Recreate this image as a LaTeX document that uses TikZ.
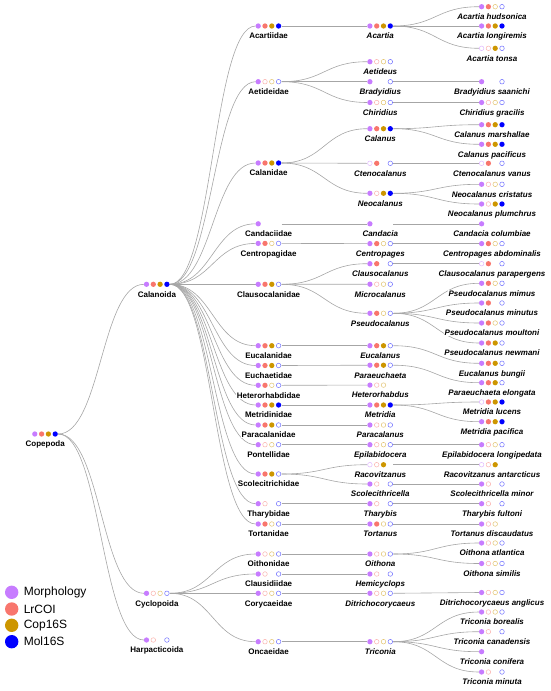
\documentclass[tikz,border=0pt]{standalone}
\usepackage{fontspec}
\setmainfont{Liberation Sans}
\setsansfont{Liberation Sans}
\usetikzlibrary{calc,positioning,backgrounds}

\definecolor{morph}{HTML}{C77CFF}
\definecolor{lrcoi}{HTML}{F8766D}
\definecolor{cop}{HTML}{CD9600}
\definecolor{mol}{HTML}{0000FF}

\tikzset{
  strip/.style={inner sep=0pt,minimum width=25.6pt,minimum height=5.2pt},
  lab/.style={font=\fontsize{8}{9}\selectfont\bfseries,inner sep=0.4pt,fill=white,anchor=base},
  labit/.style={lab,font=\fontsize{8}{9}\selectfont\bfseries\itshape},
  edge/.style={gray!70,line width=0.6pt},
  link/.style={to path={let \p1=(\tikztostart),\p2=(\tikztotarget) in
    .. controls ({(\x1+\x2)/2},\y1) and ({(\x1+\x2)/2},\y2) .. (\tikztotarget)}},
  legdot/.style={circle,inner sep=0pt,minimum size=13.4pt},
  legtxt/.style={font=\fontsize{12}{14}\selectfont,inner sep=0pt}
}

% one marker slot: F = filled, H = hollow, N = none
\newcommand{\marker}[4]{%
  \if F#4\fill[#3] ([xshift={2.6pt+6.8pt*#2}]#1.west) circle[radius=2.65pt];\fi
  \if H#4\draw[#3!55,line width=0.5pt,fill=white] ([xshift={2.6pt+6.8pt*#2}]#1.west) circle[radius=2.3pt];\fi}

% name, x, y, label style, label, four marker codes
\newcommand{\taxon}[9]{%
  \node[strip] (#1) at (#2,#3) {};
  \node[#4] (#1-t) at ([yshift=-12.8pt]#1.center) {#5};
  \marker{#1}{0}{morph}{#6}\marker{#1}{1}{lrcoi}{#7}%
  \marker{#1}{2}{cop}{#8}\marker{#1}{3}{mol}{#9}}

\begin{document}
\begin{tikzpicture}[x=1pt,y=-1pt]
  \useasboundingbox (0,0) rectangle (550,691);

  % root and orders
  \taxon{copepoda}{45.2}{434}{lab}{Copepoda}FFFF
  \taxon{calanoida}{156.9}{284.3}{lab}{Calanoida}FFFF
  \taxon{cyclopoida}{156.9}{593.3}{lab}{Cyclopoida}FHHH
  \taxon{harpacticoida}{156.9}{640}{lab}{Harpacticoida}FHNH

  % families
  \taxon{acartiidae}{268.6}{26}{lab}{Acartiidae}FFFF
  \taxon{aetideidae}{268.6}{81.7}{lab}{Aetideidae}FHHH
  \taxon{calanidae}{268.6}{163}{lab}{Calanidae}FFFF
  \taxon{candaciidae}{268.6}{223.8}{lab}{Candaciidae}FNNN
  \taxon{centropagidae}{268.6}{243.4}{lab}{Centropagidae}FFHH
  \taxon{clausocalanidae}{268.6}{284.3}{lab}{Clausocalanidae}FFFH
  \taxon{eucalanidae}{268.6}{345.7}{lab}{Eucalanidae}FFFH
  \taxon{euchaetidae}{268.6}{365.5}{lab}{Euchaetidae}FFFH
  \taxon{heterorhabdidae}{268.6}{385.3}{lab}{Heterorhabdidae}FFHH
  \taxon{metridinidae}{268.6}{405}{lab}{Metridinidae}FFFF
  \taxon{paracalanidae}{268.6}{425}{lab}{Paracalanidae}FFFH
  \taxon{pontellidae}{268.6}{444.7}{lab}{Pontellidae}FHHH
  \taxon{scolecitrichidae}{268.6}{474}{lab}{Scolecitrichidae}FFFH
  \taxon{tharybidae}{268.6}{503.7}{lab}{Tharybidae}FHNH
  \taxon{tortanidae}{268.6}{524}{lab}{Tortanidae}FFHH
  \taxon{oithonidae}{268.6}{554}{lab}{Oithonidae}FHHH
  \taxon{clausidiidae}{268.6}{574}{lab}{Clausidiidae}FHNH
  \taxon{corycaeidae}{268.6}{593.3}{lab}{Corycaeidae}FHHH
  \taxon{oncaeidae}{268.6}{641.7}{lab}{Oncaeidae}FHHH

  % genera
  \taxon{acartia}{380.3}{26}{labit}{Acartia}FFFF
  \taxon{aetideus}{380.3}{61.7}{labit}{Aetideus}FHHH
  \taxon{bradyidius}{380.3}{81.7}{labit}{Bradyidius}FNNH
  \taxon{chiridius}{380.3}{102.5}{labit}{Chiridius}FHHH
  \taxon{calanus}{380.3}{128.7}{labit}{Calanus}FFFF
  \taxon{ctenocalanus}{380.3}{163.3}{labit}{Ctenocalanus}HFNH
  \taxon{neocalanus}{380.3}{193.3}{labit}{Neocalanus}FHFF
  \taxon{candacia}{380.3}{223.8}{labit}{Candacia}FNNN
  \taxon{centropages}{380.3}{243.6}{labit}{Centropages}FFHH
  \taxon{clausocalanus}{380.3}{263.7}{labit}{Clausocalanus}FFNH
  \taxon{microcalanus}{380.3}{284.2}{labit}{Microcalanus}FHHH
  \taxon{pseudocalanus}{380.3}{313.3}{labit}{Pseudocalanus}FFHH
  \taxon{eucalanus}{380.3}{345.7}{labit}{Eucalanus}FFFH
  \taxon{paraeuchaeta}{380.3}{365.2}{labit}{Paraeuchaeta}FFFH
  \taxon{heterorhabdus}{380.3}{385.1}{labit}{Heterorhabdus}FHHN
  \taxon{metridia}{380.3}{405}{labit}{Metridia}FFFF
  \taxon{paracalanus}{380.3}{425}{labit}{Paracalanus}FHHH
  \taxon{epilabidocera}{380.3}{444.7}{labit}{Epilabidocera}FHHH
  \taxon{racovitzanus}{380.3}{464.7}{labit}{Racovitzanus}HHFN
  \taxon{scolecithricella}{380.3}{484}{labit}{Scolecithricella}FHNH
  \taxon{tharybis}{380.3}{503.7}{labit}{Tharybis}FHNH
  \taxon{tortanus}{380.3}{524}{labit}{Tortanus}FFHH
  \taxon{oithona}{380.3}{554}{labit}{Oithona}FHHH
  \taxon{hemicyclops}{380.3}{574}{labit}{Hemicyclops}FHNH
  \taxon{ditrichocorycaeus}{380.3}{593.3}{labit}{Ditrichocorycaeus}FHHH
  \taxon{triconia}{380.3}{641.7}{labit}{Triconia}FHHH

  % species
  \taxon{hudsonica}{492}{6.7}{labit}{Acartia hudsonica}FFHH
  \taxon{longiremis}{492}{26}{labit}{Acartia longiremis}FFFF
  \taxon{tonsa}{492}{48.3}{labit}{Acartia tonsa}HHFH
  \taxon{saanichi}{492}{81.7}{labit}{Bradyidius saanichi}FNNH
  \taxon{gracilis}{492}{102.5}{labit}{Chiridius gracilis}FHHH
  \taxon{marshallae}{492}{124.7}{labit}{Calanus marshallae}FFFF
  \taxon{pacificus}{492}{144.3}{labit}{Calanus pacificus}FFFF
  \taxon{vanus}{492}{163.3}{labit}{Ctenocalanus vanus}HFNH
  \taxon{cristatus}{492}{184.3}{labit}{Neocalanus cristatus}FHHH
  \taxon{plumchrus}{492}{204}{labit}{Neocalanus plumchrus}FHFF
  \taxon{columbiae}{492}{223.8}{labit}{Candacia columbiae}FNNN
  \taxon{abdominalis}{492}{243.6}{labit}{Centropages abdominalis}FFHH
  \taxon{parapergens}{492}{263.7}{labit}{Clausocalanus parapergens}HFNH
  \taxon{mimus}{492}{283.3}{labit}{Pseudocalanus mimus}FFHH
  \taxon{minutus}{492}{303}{labit}{Pseudocalanus minutus}FFNH
  \taxon{moultoni}{492}{323}{labit}{Pseudocalanus moultoni}FFHH
  \taxon{newmani}{492}{343}{labit}{Pseudocalanus newmani}FFFH
  \taxon{bungii}{492}{363.3}{labit}{Eucalanus bungii}FFFH
  \taxon{elongata}{492}{382.7}{labit}{Paraeuchaeta elongata}FFFH
  \taxon{lucens}{492}{402}{labit}{Metridia lucens}HFFF
  \taxon{pacifica}{492}{421.7}{labit}{Metridia pacifica}FFFF
  \taxon{longipedata}{492}{444.7}{labit}{Epilabidocera longipedata}FHHH
  \taxon{antarcticus}{492}{464.7}{labit}{Racovitzanus antarcticus}HHFN
  \taxon{minor}{492}{484}{labit}{Scolecithricella minor}FHNH
  \taxon{fultoni}{492}{503.7}{labit}{Tharybis fultoni}FHNH
  \taxon{discaudatus}{492}{524}{labit}{Tortanus discaudatus}FHHN
  \taxon{atlantica}{492}{543}{labit}{Oithona atlantica}FHHH
  \taxon{similis}{492}{563.5}{labit}{Oithona similis}FHHH
  \taxon{anglicus}{492}{592.5}{labit}{Ditrichocorycaeus anglicus}FHHH
  \taxon{borealis}{492}{612}{labit}{Triconia borealis}FHHH
  \taxon{canadensis}{492}{631.7}{labit}{Triconia canadensis}FHNH
  \taxon{conifera}{492}{651.7}{labit}{Triconia conifera}FNNN
  \taxon{minuta}{492}{672}{labit}{Triconia minuta}FHNH

  % links
  \begin{scope}[on background layer]
    \foreach \a/\b in {copepoda/calanoida,copepoda/cyclopoida,copepoda/harpacticoida,
        calanoida/acartiidae,calanoida/aetideidae,calanoida/calanidae,calanoida/candaciidae,
        calanoida/centropagidae,calanoida/clausocalanidae,calanoida/eucalanidae,
        calanoida/euchaetidae,calanoida/heterorhabdidae,calanoida/metridinidae,
        calanoida/paracalanidae,calanoida/pontellidae,calanoida/scolecitrichidae,
        calanoida/tharybidae,calanoida/tortanidae,
        cyclopoida/oithonidae,cyclopoida/clausidiidae,cyclopoida/corycaeidae,cyclopoida/oncaeidae,
        acartiidae/acartia,aetideidae/aetideus,aetideidae/bradyidius,aetideidae/chiridius,
        calanidae/calanus,calanidae/ctenocalanus,calanidae/neocalanus,candaciidae/candacia,
        centropagidae/centropages,clausocalanidae/clausocalanus,clausocalanidae/microcalanus,
        clausocalanidae/pseudocalanus,eucalanidae/eucalanus,euchaetidae/paraeuchaeta,
        heterorhabdidae/heterorhabdus,metridinidae/metridia,paracalanidae/paracalanus,
        pontellidae/epilabidocera,scolecitrichidae/racovitzanus,scolecitrichidae/scolecithricella,
        tharybidae/tharybis,tortanidae/tortanus,oithonidae/oithona,clausidiidae/hemicyclops,
        corycaeidae/ditrichocorycaeus,oncaeidae/triconia,
        acartia/hudsonica,acartia/longiremis,acartia/tonsa,bradyidius/saanichi,chiridius/gracilis,
        calanus/marshallae,calanus/pacificus,ctenocalanus/vanus,neocalanus/cristatus,
        neocalanus/plumchrus,candacia/columbiae,centropages/abdominalis,clausocalanus/parapergens,
        pseudocalanus/mimus,pseudocalanus/minutus,pseudocalanus/moultoni,pseudocalanus/newmani,
        eucalanus/bungii,paraeuchaeta/elongata,metridia/lucens,metridia/pacifica,
        epilabidocera/longipedata,racovitzanus/antarcticus,scolecithricella/minor,
        tharybis/fultoni,tortanus/discaudatus,oithona/atlantica,oithona/similis,
        ditrichocorycaeus/anglicus,triconia/borealis,triconia/canadensis,triconia/conifera,
        triconia/minuta}
      \draw[edge] (\a.east) to[link] (\b.west);
  \end{scope}

  % legend
  \node[legdot,fill=morph] (leg-m) at (11.7,592.3) {};
  \node[legdot,fill=lrcoi] (leg-l) at (11.7,609) {};
  \node[legdot,fill=cop] (leg-c) at (11.7,625.3) {};
  \node[legdot,fill=mol] (leg-b) at (11.7,641.7) {};
  \node[legtxt,right=5pt of leg-m] (leg-m-t) {Morphology};
  \node[legtxt,right=5pt of leg-l] (leg-l-t) {LrCOI};
  \node[legtxt,right=5pt of leg-c] (leg-c-t) {Cop16S};
  \node[legtxt,right=5pt of leg-b] (leg-b-t) {Mol16S};
\end{tikzpicture}
\end{document}
